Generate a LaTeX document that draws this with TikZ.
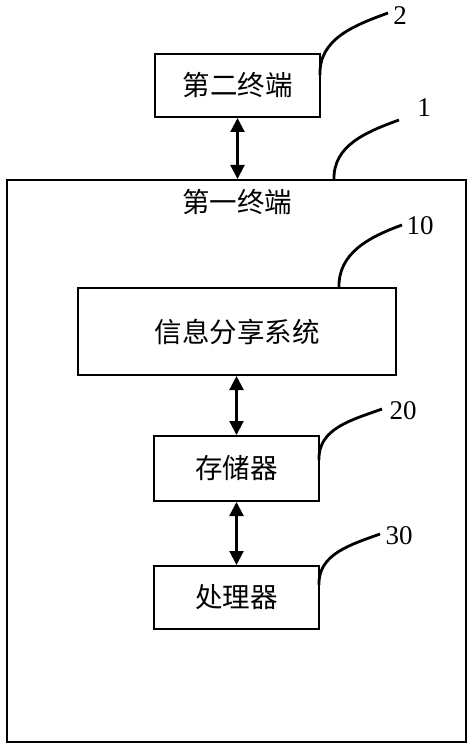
\documentclass[tikz,border=0pt]{standalone}
\usepackage{fontspec}
\setmainfont{Liberation Serif}
\newfontfamily\cjk{Noto Sans CJK SC}
\usetikzlibrary{arrows.meta}
\tikzset{
  box/.style={draw, line width=2pt, inner sep=0pt, font=\cjk\fontsize{27.5}{27.5}\selectfont},
  captext/.style={inner sep=0pt, font=\cjk\fontsize{27.5}{27.5}\selectfont},
  lbl/.style={inner sep=2pt, font=\fontsize{27}{27}\selectfont},
  lead/.style={line width=2.8pt},
  link/.style={line width=2.2pt, {Triangle[length=14pt,width=14pt]}-{Triangle[length=14pt,width=14pt]}}
}
\begin{document}
\begin{tikzpicture}[x=1pt,y=-1pt]
\useasboundingbox (0,0) rectangle (474,751);
\node[box, minimum width=165pt, minimum height=63pt] (t2) at (237.5,85.5) {第二终端};
\node[box, minimum width=459pt, minimum height=562pt] (t1) at (236.5,461) {};
\node[captext] (t1cap) at (237,202) {第一终端};
\node[box, minimum width=318pt, minimum height=87pt] (info) at (237,331.5) {信息分享系统};
\node[box, minimum width=165pt, minimum height=65pt] (mem) at (236.5,468.5) {存储器};
\node[box, minimum width=165pt, minimum height=63pt] (cpu) at (236.5,597.5) {处理器};

\draw[link] (t2.south) -- (t2.south |- t1.north);
\draw[link] (info.south -| mem.north) -- (mem.north);
\draw[link] (mem.south) -- (cpu.north);

\node[lbl] (l2) at (400,16) {2};
\node[lbl] (l1) at (424,108) {1};
\node[lbl] (l10) at (420,226) {10};
\node[lbl] (l20) at (403,411) {20};
\node[lbl] (l30) at (399,536) {30};

\coordinate (s2) at (320,75);
\coordinate (s1) at (334,180);
\coordinate (s10) at (339,288);
\coordinate (s20) at (319,460);
\coordinate (s30) at (319,585);
\coordinate (e2) at (388,13);
\coordinate (e1) at (399,120);
\coordinate (e10) at (402,225);
\coordinate (e20) at (382,409);
\coordinate (e30) at (380,534);

\draw[lead] (s2) to[out=92,in=200] (e2);
\draw[lead] (s1) to[out=92,in=200] (e1);
\draw[lead] (s10) to[out=92,in=200] (e10);
\draw[lead] (s20) to[out=92,in=200] (e20);
\draw[lead] (s30) to[out=92,in=200] (e30);
\end{tikzpicture}
\end{document}
